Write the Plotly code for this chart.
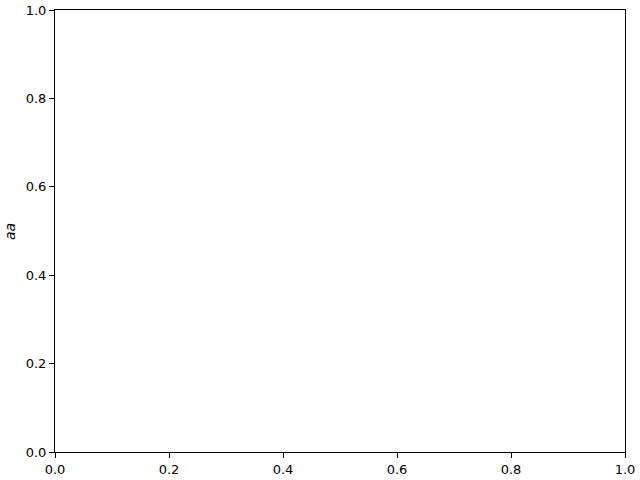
import plotly.graph_objects as go

x_range = [0.0, 1.0]
y_range = [0.0, 1.0]
tick_values = [0.0, 0.2, 0.4, 0.6, 0.8, 1.0]
y_label = "aa"

fig = go.Figure()
fig.add_trace(go.Scatter(x=[], y=[], mode="markers", showlegend=False))

axis_common = dict(
    showline=True, linecolor="black", linewidth=1, mirror=True,
    ticks="outside", ticklen=5, tickwidth=1, tickcolor="black",
    showgrid=False, zeroline=False, automargin=False,
    tickvals=tick_values, ticktext=[f"{v:.1f}" for v in tick_values],
    tickfont=dict(family="DejaVu Sans", size=13, color="black"),
)

fig.update_layout(
    width=640, height=480,
    margin=dict(l=55, r=15, t=10, b=28),
    plot_bgcolor="white", paper_bgcolor="white",
    xaxis=dict(range=x_range, **axis_common),
    yaxis=dict(range=y_range, **axis_common),
    annotations=[dict(
        text=f"<i>{y_label}</i>", textangle=-90,
        xref="paper", yref="paper", x=-0.0965, y=0.5,
        xanchor="left", yanchor="middle", showarrow=False,
        font=dict(family="DejaVu Sans", size=14, color="black"),
    )],
)

fig.write_html(
    "out.html",
    config={"displayModeBar": False, "staticPlot": True},
    post_script="document.body.style.margin='0';document.body.style.overflow='hidden';",
)
